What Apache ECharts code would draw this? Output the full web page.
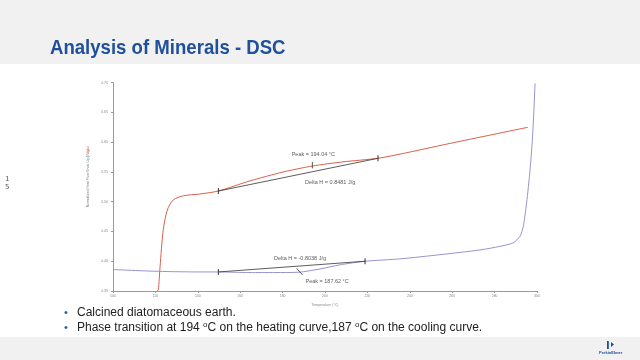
<!DOCTYPE html>
<html><head><meta charset="utf-8">
<script src="https://cdn.jsdelivr.net/npm/echarts@6/dist/echarts.min.js"></script>
<style>html,body{margin:0;padding:0;background:#fff}#c{width:640px;height:360px}</style>
</head><body><div id="c"></div>
<script>
// Heating curve (Temperature °C, heat flow W/g)
const heatT = [120.8,121.4,122.2,123.7,125.6,128.4,133.2,141.0,149.7,164.6,180.3,194.0,208.5,225.0,235.4,259.0,295.6];
const heatV = [0.350,0.352,0.391,0.453,0.486,0.503,0.510,0.513,0.518,0.535,0.550,0.560,0.567,0.573,0.580,0.598,0.625];
// Cooling curve
const coolT = [100.1,121.4,141.0,149.7,164.6,176.4,187.4,197.6,207.1,218.9,235.4,254.2,273.1,282.5,288.8,292.0,293.5,295.1,296.7,297.9,299.1];
const coolV = [0.386,0.383,0.382,0.382,0.381,0.381,0.3815,0.387,0.394,0.400,0.404,0.411,0.419,0.425,0.431,0.442,0.458,0.498,0.553,0.609,0.699];
// Integration baselines
const heatBaseT = [149.7,225.0];
const heatBaseV = [0.518,0.573];
const coolBaseT = [149.7,218.9];
const coolBaseV = [0.382,0.400];
// Peak markers
const heatPeakT = [194.04,194.04];
const heatPeakV = [0.567,0.556];
const coolPeakT = [186.6,189.4];
const coolPeakV = [0.388,0.377];
// Annotation texts
const annoText = ['Peak = 194.04 °C','Delta H = 0.8481 J/g','Delta H = -0.8038 J/g','Peak = 187.62 °C'];
const annoT = [194.5,202.4,188.2,201.0];
const annoV = [0.579,0.533,0.405,0.3655];
// Axis
const xMin = 100, xMax = 300, xStep = 20;
const yMin = 0.35, yMax = 0.70, yStep = 0.05;
const title = 'Analysis of Minerals - DSC';
const bullets = ['Calcined diatomaceous earth.','Phase transition at 194 {s|o}C on the heating curve,187 {s|o}C on the cooling curve.'];

const zip = (a,b)=>a.map((v,i)=>[v,b[i]]);
const chart = echarts.init(document.getElementById('c'));
const opt = {
  backgroundColor:'#fff',
  animation:false,
  grid:{left:113,right:103,top:82.7,bottom:69,containLabel:false},
  xAxis:{type:'value',min:xMin,max:xMax,interval:xStep,
    name:'Temperature (°C)',nameLocation:'middle',nameGap:8,
    nameTextStyle:{fontSize:3.5,color:'#888'},
    axisLine:{lineStyle:{color:'#999',width:1}},
    axisTick:{length:2,lineStyle:{color:'#999'}},
    axisLabel:{fontSize:3.5,color:'#888',margin:3},
    splitLine:{show:false}},
  yAxis:{type:'value',min:yMin,max:yMax,interval:yStep,
    axisLine:{show:true,lineStyle:{color:'#999',width:1}},
    axisTick:{show:true,length:2,lineStyle:{color:'#999'}},
    axisLabel:{fontSize:3.5,color:'#888',margin:5,formatter:v=>v.toFixed(2)},
    splitLine:{show:false}},
  series:[
    {type:'line',data:zip(heatT,heatV),showSymbol:false,smooth:0.25,lineStyle:{color:'#d9604a',width:1},z:3},
    {type:'line',data:zip(coolT,coolV),showSymbol:false,smooth:0.25,lineStyle:{color:'#9493d2',width:1},z:3},
    {type:'line',data:zip(heatBaseT,heatBaseV),symbol:'rect',symbolSize:[1,6],itemStyle:{color:'#333'},lineStyle:{color:'#333',width:0.8},z:4},
    {type:'line',data:zip(coolBaseT,coolBaseV),symbol:'rect',symbolSize:[1,6],itemStyle:{color:'#333'},lineStyle:{color:'#333',width:0.8},z:4},
    {type:'line',data:zip(heatPeakT,heatPeakV),showSymbol:false,lineStyle:{color:'#333',width:0.8},z:4},
    {type:'line',data:zip(coolPeakT,coolPeakV),showSymbol:false,lineStyle:{color:'#333',width:0.8},z:4},
    {type:'scatter',data:annoT.map((t,i)=>({value:[t,annoV[i]],label:{formatter:annoText[i]}})),
      symbolSize:0,label:{show:true,position:'inside',fontSize:5.5,color:'#333',fontFamily:'Liberation Sans'},z:5}
  ],
  graphic:[
    {type:'rect',shape:{x:0,y:0,width:640,height:64},style:{fill:'#f1f1f1'},z:-10},
    {type:'rect',shape:{x:0,y:337,width:640,height:23},style:{fill:'#f1f1f1'},z:-10},
    {type:'text',x:50,y:48,scaleX:0.885,style:{text:title,font:'bold 21px "Liberation Sans",Arial',fill:'#21509b',verticalAlign:'middle'}},
    {type:'text',x:5,y:179,style:{text:'1',font:'7px "DejaVu Sans"',fill:'#555',verticalAlign:'middle'}},
    {type:'text',x:5,y:187,style:{text:'5',font:'7px "DejaVu Sans"',fill:'#555',verticalAlign:'middle'}},
    {type:'text',x:88,y:178,rotation:Math.PI/2,style:{text:'Normalized Heat Flow Endo Up (W/g)',font:'3.5px "Liberation Sans"',fill:'#777',align:'center',verticalAlign:'middle'}},
    {type:'rect',shape:{x:87.5,y:146,width:1.2,height:8},style:{fill:'#f0a080'}},
    {type:'rect',shape:{x:87.5,y:156,width:1.2,height:5},style:{fill:'#a8d8e8'}},
    {type:'text',x:64,y:313,style:{text:'•',font:'11px "Liberation Sans"',fill:'#2a5aa0',verticalAlign:'middle'}},
    {type:'text',x:64,y:328,style:{text:'•',font:'11px "Liberation Sans"',fill:'#2a5aa0',verticalAlign:'middle'}},
    {type:'text',x:77,y:313,style:{text:bullets[0],font:'12px "Liberation Sans"',fill:'#222',verticalAlign:'middle'}},
    {type:'text',x:77,y:328,style:{text:bullets[1],font:'12px "Liberation Sans"',fill:'#222',verticalAlign:'middle',
      rich:{s:{fontSize:8,verticalAlign:'top',padding:[0,0,6,0],fill:'#222',fontFamily:'Liberation Sans'}}}},
    {type:'rect',shape:{x:607,y:341,width:1.8,height:8},style:{fill:'#1b4f9c'}},
    {type:'polygon',shape:{points:[[611,342],[614,344.5],[611,347]]},style:{fill:'#1b4f9c'}},
    {type:'text',x:599,y:353,style:{text:'PerkinElmer',font:'bold 4px "Liberation Sans"',fill:'#1b4f9c',verticalAlign:'middle'}}
  ]
};
chart.setOption(opt);
</script></body></html>
